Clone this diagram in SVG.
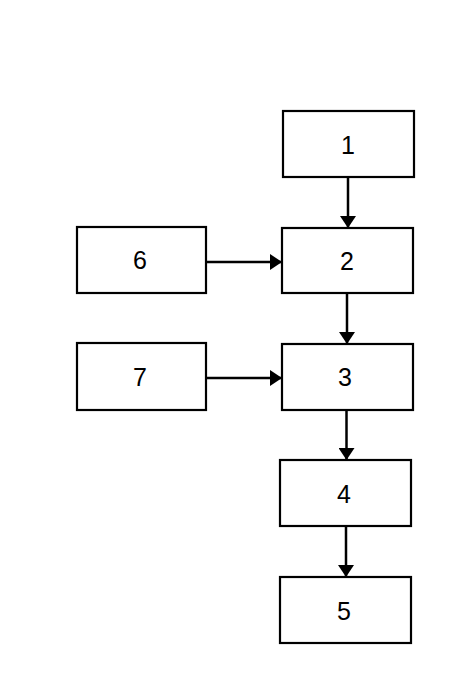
<svg xmlns="http://www.w3.org/2000/svg" width="474" height="682" viewBox="0 0 474 682">
<style>
.box{fill:#fff;stroke:#000;stroke-width:2.2}
.lbl{font-family:"Liberation Sans",Arial,sans-serif;font-size:25px;fill:#000;text-anchor:middle;dominant-baseline:central}
.con{stroke:#000;stroke-width:2.5;fill:none;marker-end:url(#ah)}
</style>
<defs>
<marker id="ah" markerUnits="userSpaceOnUse" markerWidth="12" markerHeight="16" viewBox="0 0 12 16" refX="12" refY="8" orient="auto">
<path d="M0,0 L12,8 L0,16 Z" fill="#000"/>
</marker>
</defs>
<rect width="474" height="682" fill="#fff"/>
<g id="connectors">
<line class="con" x1="348" y1="177" x2="348" y2="228"/>
<line class="con" x1="206" y1="262" x2="282" y2="262"/>
<line class="con" x1="347" y1="293" x2="347" y2="344"/>
<line class="con" x1="206" y1="378" x2="282" y2="378"/>
<line class="con" x1="346.5" y1="410" x2="346.5" y2="460"/>
<line class="con" x1="346" y1="526" x2="346" y2="577"/>
</g>
<g id="node1"><rect class="box" x="283" y="111" width="131" height="66"/><text class="lbl" x="348" y="145">1</text></g>
<g id="node2"><rect class="box" x="282" y="228" width="131" height="65"/><text class="lbl" x="347" y="261">2</text></g>
<g id="node6"><rect class="box" x="77" y="227" width="129" height="66"/><text class="lbl" x="140" y="260">6</text></g>
<g id="node3"><rect class="box" x="282" y="344" width="131" height="66"/><text class="lbl" x="345" y="377">3</text></g>
<g id="node7"><rect class="box" x="77" y="343" width="129" height="67"/><text class="lbl" x="140" y="377">7</text></g>
<g id="node4"><rect class="box" x="280" y="460" width="131" height="66"/><text class="lbl" x="344" y="494">4</text></g>
<g id="node5"><rect class="box" x="280" y="577" width="131" height="66"/><text class="lbl" x="344" y="611">5</text></g>
</svg>
